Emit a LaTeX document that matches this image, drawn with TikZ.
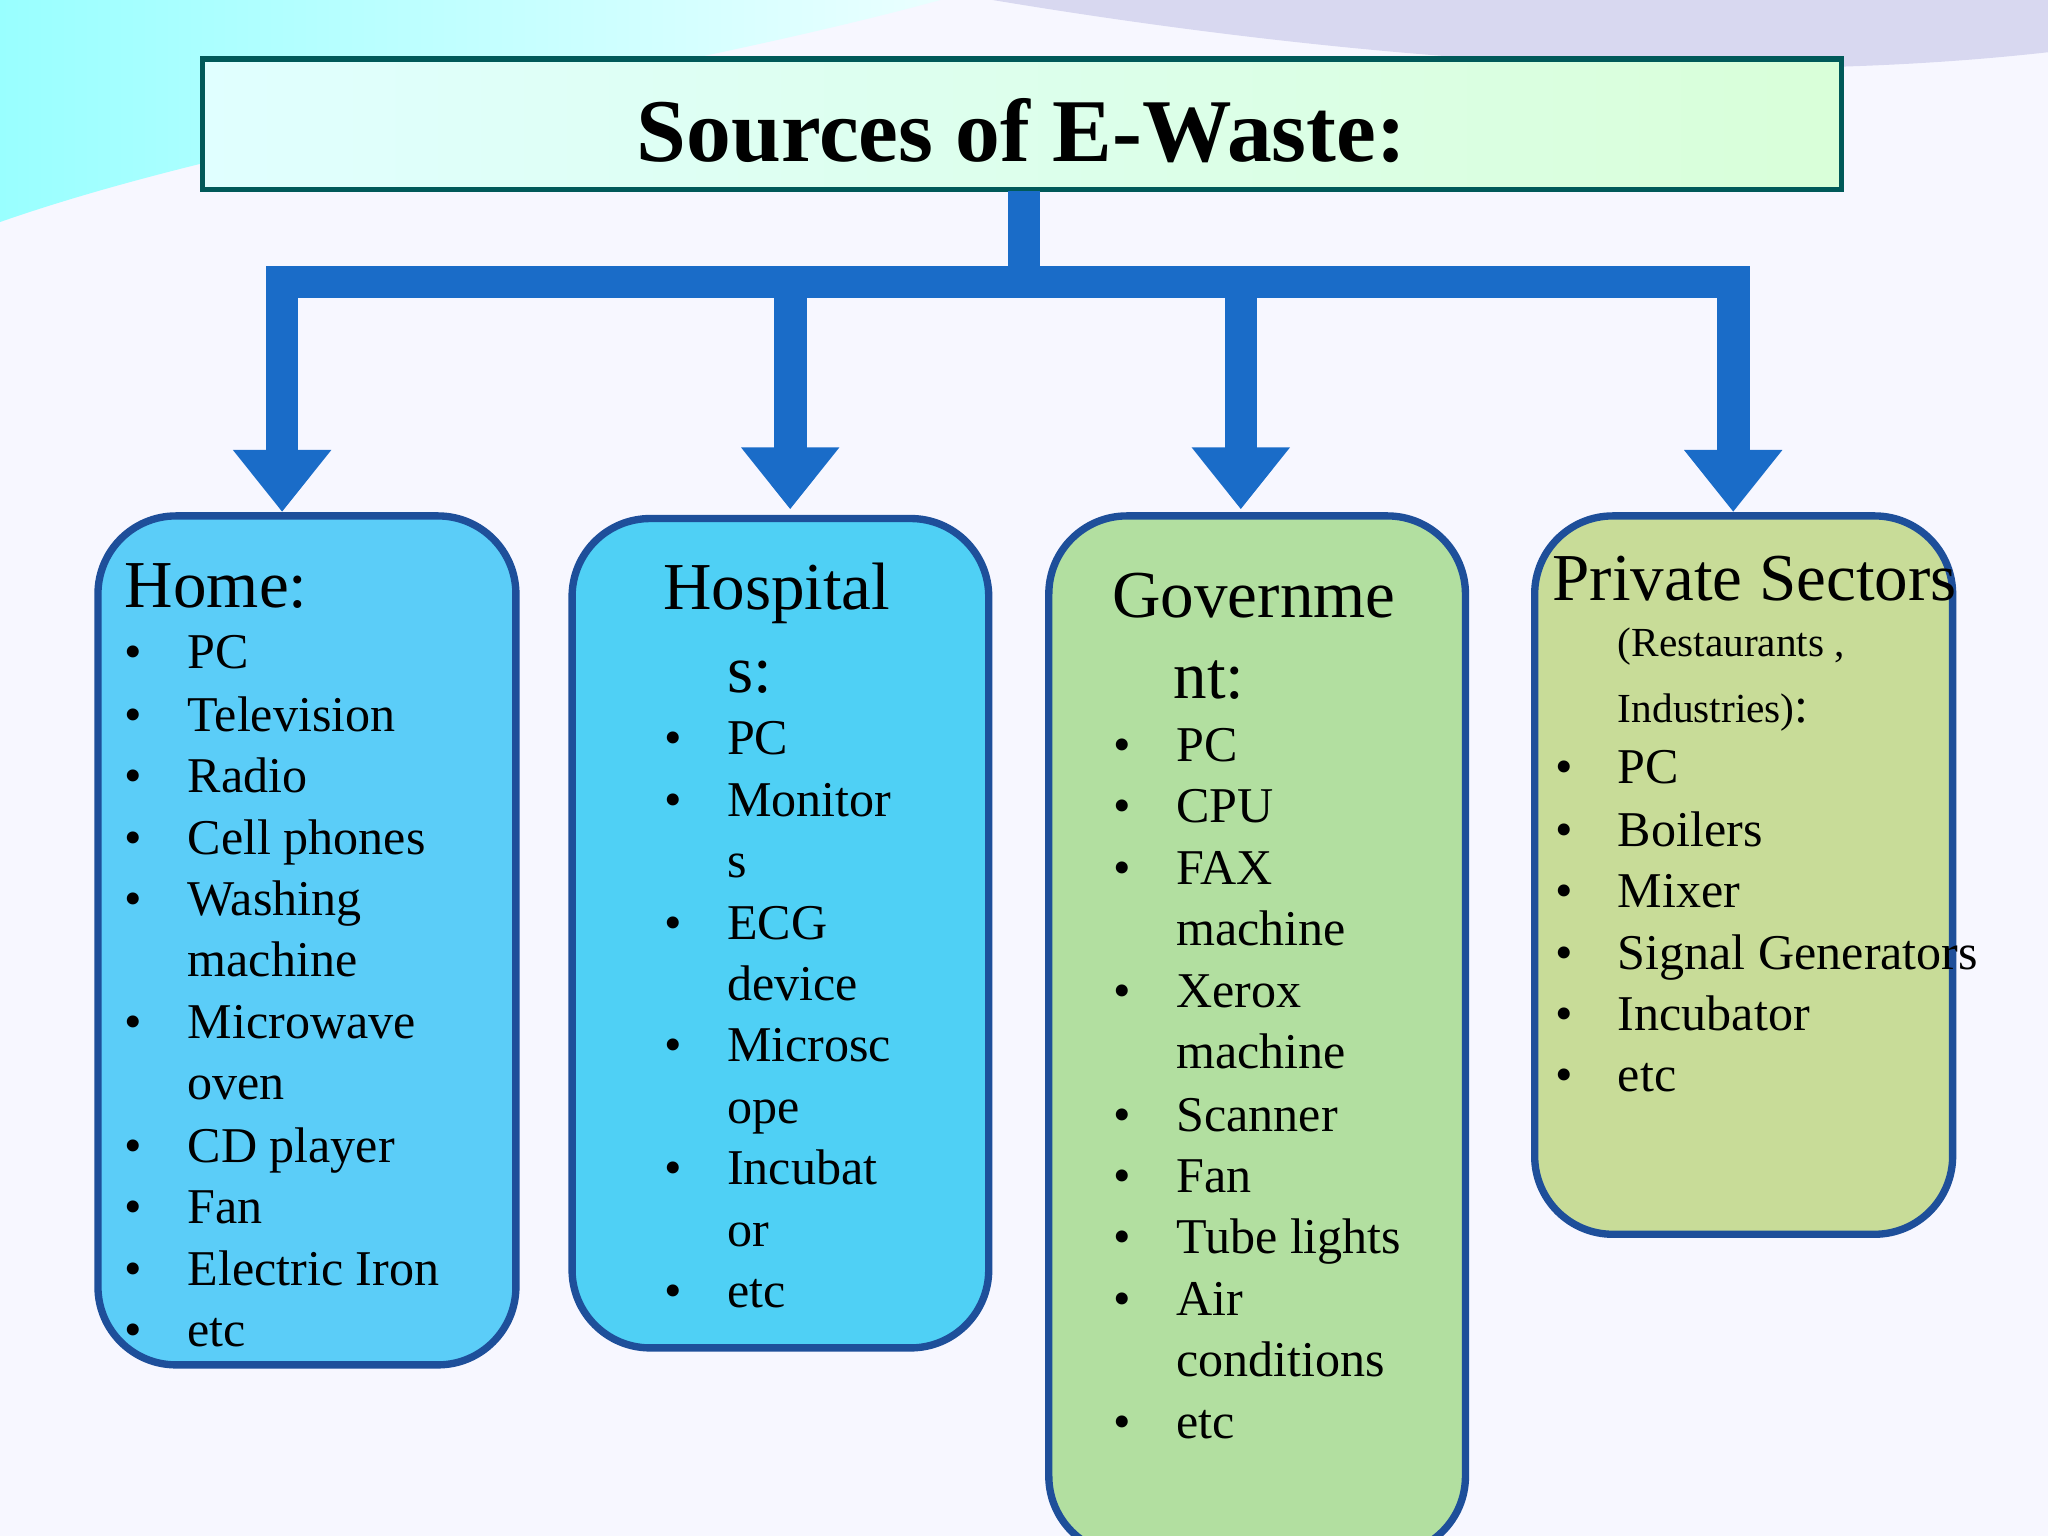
\documentclass[tikz,border=0pt]{standalone}
\usepackage{fontspec}
\setmainfont{Liberation Serif}
\usetikzlibrary{arrows.meta,shadings}
\definecolor{arr}{HTML}{1A6CC8}
\definecolor{bord}{HTML}{1E4F9A}
\definecolor{cHome}{HTML}{5BCDF8}
\definecolor{cHosp}{HTML}{4FD0F5}
\definecolor{cGov}{HTML}{B2DFA0}
\definecolor{cPriv}{HTML}{C8DC98}
\tikzset{
 box/.style={draw=bord,line width=1.6pt,rounded corners=17pt},
 it/.style={anchor=base west,inner sep=0pt,font=\fontsize{10.9}{12}\selectfont},
 hd/.style={anchor=base west,inner sep=0pt,font=\fontsize{14.6}{16}\selectfont},
 sm/.style={anchor=base west,inner sep=0pt,font=\fontsize{9}{10}\selectfont},
 conn/.style={draw=arr,line width=7.1pt},
 drop/.style={conn,-{Triangle[width=20.5pt,length=13.5pt]}}
}
\begin{document}
\begin{tikzpicture}[x=0.01cm,y=-0.01cm]
\useasboundingbox (0,0) rectangle (1568,1176);
\fill[white!97!blue] (0,0) rectangle (1568,1176);
\shade[left color=cyan!40,right color=cyan!8] (0,0) -- (720,0) .. controls (500,60) and (200,100) .. (0,170) -- cycle;
\fill[cyan!25!blue!15] (760,0) .. controls (1000,40) and (1300,70) .. (1568,40) -- (1568,0) -- cycle;
\node[draw=teal!70!black,line width=1.2pt,left color=cyan!12,right color=green!15,
 minimum width=35.7cm*0.01*100/100,inner sep=0pt,minimum height=0pt] (title) at (782,95) {};
\draw[teal!70!black,line width=1.2pt,left color=cyan!12,right color=green!15] (155,45) rectangle (1410,145);
\node[font=\bfseries\fontsize{19.5}{21}\selectfont] (tt) at (782,100) {Sources of E-Waste:};
% boxes
\draw[box,fill=cHome] (75,395) rectangle (395,1045);
\draw[box,fill=cHosp] (438,397) rectangle (757,1032);
\draw[box,fill=cGov] (803,395) rectangle (1122,1190);
\draw[box,fill=cPriv] (1175,395) rectangle (1495,945);
% connectors
\coordinate (s0) at (784,146);
\coordinate (bm) at (784,216);
\coordinate (bl) at (216,216);
\coordinate (br) at (1327,216);
\draw[conn] (s0) -- (bm);
\draw[conn,line cap=rect] (bl) -- (br);
\draw[drop] (216,212) -- (216,392);
\draw[drop] (605,212) -- (605,390);
\draw[drop] (950,212) -- (950,390);
\draw[drop] (1327,212) -- (1327,392);
% Home
\node[hd] (hh) at (95,465) {Home:};
\foreach \t/\y/\b [count=\i] in {PC/512/1,Television/560/1,Radio/607/1,Cell phones/654/1,Washing/701/1,machine/748/0,Microwave/795/1,oven/842/0,CD player/890/1,Fan/937/1,Electric Iron/984/1,etc/1031/1}{
 \node[it] (a\i) at (143,\y) {\t};
 \ifnum\b=1 \node[it] (ab\i) at (95,\y) {•};\fi}
% Hospital
\node[hd] (ph) at (507,467) {Hospital};
\node[hd] (ph2) at (556,530) {s:};
\foreach \t/\y/\b [count=\i] in {PC/578/1,Monitor/625/1,s/672/0,ECG/719/1,device/766/0,Microsc/813/1,ope/860/0,Incubat/907/1,or/954/0,etc/1001/1}{
 \node[it] (b\i) at (556,\y) {\t};
 \ifnum\b=1 \node[it] (bb\i) at (508,\y) {•};\fi}
% Government
\node[hd] (gh) at (851,473) {Governme};
\node[hd] (gh2) at (898,535) {nt:};
\foreach \t/\y/\b [count=\i] in {PC/583/1,CPU/630/1,FAX/677/1,machine/724/0,Xerox/771/1,machine/818/0,Scanner/866/1,Fan/913/1,Tube lights/960/1,Air/1007/1,conditions/1054/0,etc/1101/1}{
 \node[it] (c\i) at (900,\y) {\t};
 \ifnum\b=1 \node[it] (cb\i) at (852,\y) {•};\fi}
% Private
\node[hd] (rh) at (1188,460) {Private Sectors};
\node[sm] (r0) at (1238,503) {(Restaurants ,};
\node[sm] (r00) at (1238,553) {Industries)\fontsize{10.9}{12}\selectfont:};
\foreach \t/\y [count=\i] in {PC/600,Boilers/648,Mixer/695,Signal Generators/742,Incubator/789,etc/836}{
 \node[it] (d\i) at (1238,\y) {\t};
 \node[it] (db\i) at (1190,\y) {•};}
\end{tikzpicture}
\end{document}
